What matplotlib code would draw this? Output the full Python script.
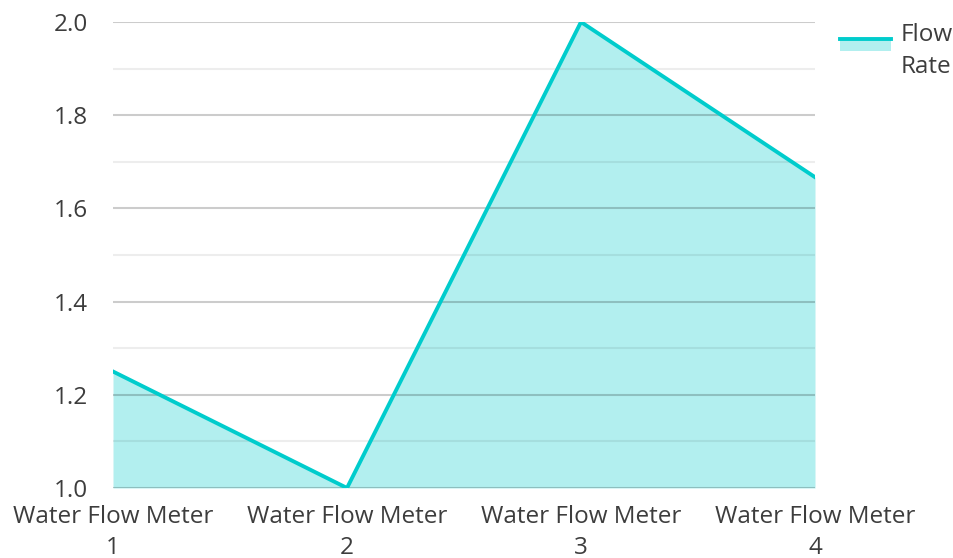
import numpy as np
import matplotlib.pyplot as plt
from matplotlib.legend_handler import HandlerBase
from matplotlib.patches import Rectangle
from matplotlib.lines import Line2D

plt.rcParams['font.family'] = ['Open Sans', 'DejaVu Sans']

categories = ['Water Flow Meter\n1', 'Water Flow Meter\n2',
              'Water Flow Meter\n3', 'Water Flow Meter\n4']
flow_rate = [1.25, 1.0, 2.0, 1.667]
series_name = 'Flow\nRate'

LINE_COLOR = '#00cccc'
FILL_COLOR = '#b2efef'
TEXT_COLOR = '#3d3d3d'
FONT_SIZE = 17.5


class AreaHandler(HandlerBase):
    """Legend key: filled box with a thick line on its top edge, next to the first text line"""
    def create_artists(self, legend, orig_handle, xdescent, ydescent,
                       width, height, fontsize, trans):
        top = -ydescent + height * 0.7 + 6.5
        box = Rectangle((-xdescent, top - 8.5), width, 8.5,
                        facecolor=FILL_COLOR, edgecolor='none', transform=trans)
        line = Line2D([-xdescent, -xdescent + width], [top, top],
                      color=LINE_COLOR, lw=2.8, transform=trans)
        return [box, line]


fig = plt.figure(figsize=(9.54, 5.58), dpi=100)
ax = fig.add_axes([113 / 954, 1 - 488 / 558, 702 / 954, 466 / 558])

x = np.arange(len(categories))
ax.fill_between(x, 1.0, flow_rate, color=FILL_COLOR, lw=0, zorder=1)
line, = ax.plot(x, flow_rate, color=LINE_COLOR, lw=2.8, zorder=3,
                solid_joinstyle='miter')

ax.set_xlim(0, len(categories) - 1)
ax.set_ylim(1.0, 2.0)
ax.set_xticks(x)
ax.set_xticklabels(categories, linespacing=1.38)
ax.set_yticks(np.arange(1.0, 2.01, 0.2))
ax.set_yticklabels([f'{v:.1f}' for v in np.arange(1.0, 2.01, 0.2)])
ax.set_yticks(np.arange(1.1, 2.0, 0.2), minor=True)

ax.grid(axis='y', which='major', color='#000000', alpha=0.2, lw=1.5, zorder=2)
ax.grid(axis='y', which='minor', color='#000000', alpha=0.07, lw=1.5, zorder=2)
ax.set_axisbelow(False)
for s in ax.spines.values():
    s.set_visible(False)
ax.tick_params(axis='both', which='both', length=0, labelsize=FONT_SIZE, colors=TEXT_COLOR)
ax.tick_params(axis='y', pad=18)
ax.tick_params(axis='x', pad=12)

leg = fig.legend([line], [series_name], handler_map={line: AreaHandler()},
                 loc='upper left', bbox_to_anchor=(840 / 954, 1 - 23 / 558),
                 frameon=False, fontsize=FONT_SIZE, handlelength=2.1, handletextpad=0.4,
                 borderaxespad=0, borderpad=0, labelcolor=TEXT_COLOR, handleheight=0.6)
for t in leg.get_texts():
    t.set_linespacing(1.45)

fig.savefig('out.png', dpi=100)
